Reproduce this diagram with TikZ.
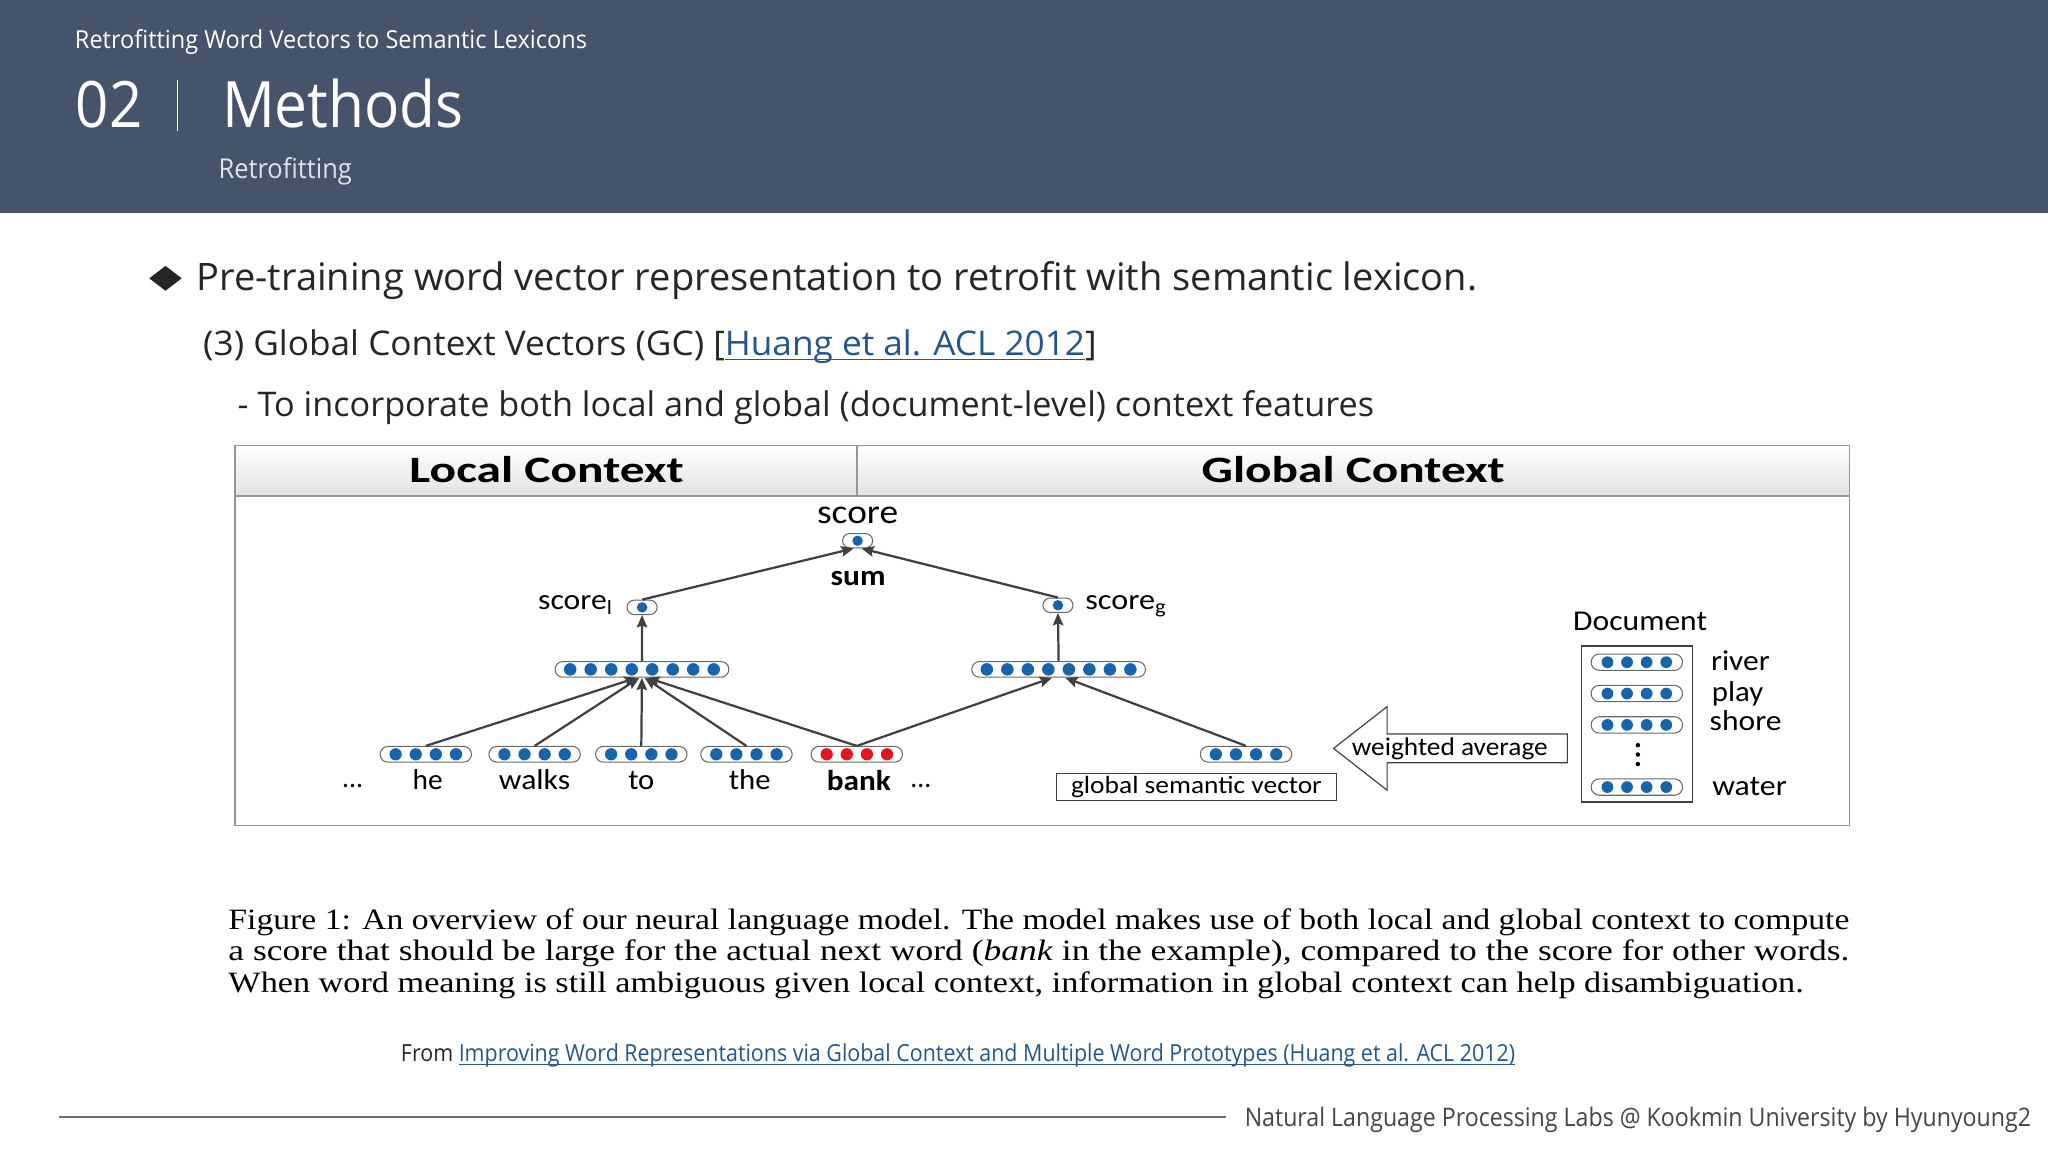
\documentclass[tikz,border=0pt]{standalone}
\usepackage{fontspec}
\usepackage{graphicx}
\usetikzlibrary{arrows.meta,calc}
\newfontfamily\slidefont{Open Sans}
\newfontfamily\figfont{Carlito}
\newfontfamily\capfont{Liberation Serif}
\definecolor{hdr}{RGB}{70,84,107}
\definecolor{subw}{RGB}{222,226,233}
\definecolor{bodytxt}{RGB}{38,38,38}
\definecolor{linkblue}{RGB}{36,86,140}
\definecolor{dotblue}{RGB}{22,100,172}
\definecolor{dotred}{RGB}{226,22,28}
\definecolor{arrgray}{RGB}{64,64,64}
\definecolor{capgray}{RGB}{105,105,105}
\definecolor{figborder}{RGB}{150,150,150}
\definecolor{foottxt}{RGB}{70,70,70}
\newlength\fitlen
\newcommand\fitw[2]{\settowidth{\fitlen}{#2}\pgfmathsetmacro\fitr{#1/\fitlen}\scalebox{\fitr}[1]{#2}}
\newsavebox\lnkbox
\newcommand\lnk[3]{\sbox\lnkbox{\color{linkblue}#3}{\color{linkblue}\rlap{\rule[-#1pt]{\wd\lnkbox}{#2pt}}}\usebox\lnkbox}
\newcommand\capdots[5]{% node, count, spacing, colour, radius
  \pgfmathsetmacro\halfn{(#2-1)/2}
  \foreach \k in {1,...,#2}{\fill[#4] ($(#1)+({(\k-1-\halfn)*#3},0)$) circle[radius=#5pt];}}
\begin{document}
\begin{tikzpicture}[x=1pt,y=-1pt,
  tx/.style={inner sep=0pt,outer sep=0pt},
  arr/.style={draw=arrgray,line width=1.7pt,-{Stealth[length=9.5pt,width=8pt,inset=1.5pt]}},
  capbase/.style={draw=capgray,line width=0.8pt,fill=white,rectangle,inner sep=0pt},
  cap4/.style={capbase,rounded corners=6pt,minimum width=70pt,minimum height=12pt},
  cap8/.style={capbase,rounded corners=6pt,minimum width=133pt,minimum height=12pt},
  cap1/.style={capbase,rounded corners=5.5pt,minimum width=23pt,minimum height=11pt},
  capd/.style={capbase,rounded corners=6.25pt,minimum width=70pt,minimum height=12.5pt},
  fig/.style={tx,font=\figfont\fontsize{22}{24}\selectfont,text=black},
  figb/.style={tx,font=\figfont\bfseries\fontsize{22}{24}\selectfont,text=black},
  capt/.style={tx,anchor=base west,font=\capfont\fontsize{22.6}{24}\selectfont,text=black}
]
\useasboundingbox (0,0) rectangle (1568,882);
\fill[white] (0,0) rectangle (1568,882);
% header band
\fill[hdr] (0,0) rectangle (1568,163);
\node[tx,anchor=base west,font=\slidefont\fontsize{19}{22}\selectfont,text=white] (h1) at (57.4,37) {\fitw{392}{Retrofitting Word Vectors to Semantic Lexicons}};
\node[tx,anchor=base west,font=\slidefont\fontsize{49}{52}\selectfont,text=white] (h02) at (58,98) {\fitw{51}{02}};
\draw[white,line width=1.3pt] (136,61) -- (136,100);
\node[tx,anchor=base west,font=\slidefont\fontsize{49}{52}\selectfont,text=white] (hm) at (170,98) {\fitw{185}{Methods}};
\node[tx,anchor=base west,font=\slidefont\fontsize{21}{24}\selectfont,text=subw] (hs) at (167.4,137) {\fitw{102}{Retrofitting}};
% body text
\fill[bodytxt] (114.3,213.1) -- (126.7,203.6) -- (139.1,213.1) -- (126.7,222.6) -- cycle;
\node[tx,anchor=base west,font=\slidefont\fontsize{29}{32}\selectfont,text=bodytxt] (b1) at (150.6,222.6) {\fitw{980.5}{Pre-training word vector representation to retrofit with semantic lexicon.}};
\node[tx,anchor=base west,font=\slidefont\fontsize{26}{30}\selectfont,text=bodytxt] (b2) at (155.6,272) {\fitw{684}{(3) Global Context Vectors (GC) [\lnk{4}{1.3}{Huang et al. ACL 2012}]}};
\node[tx,anchor=base west,font=\slidefont\fontsize{26}{30}\selectfont,text=bodytxt] (b3) at (182,319) {\fitw{870}{- To incorporate both local and global (document-level) context features}};
% figure frame
\shade[top color=white,bottom color={rgb,255:red,226;green,226;blue,226}] (180,341) rectangle (1416,380);
\draw[figborder,line width=1.3pt] (180,341) rectangle (1416,632);
\draw[figborder,line width=1.3pt] (180,380) -- (1416,380);
\draw[figborder,line width=1.3pt] (656,341) -- (656,380);
\node[tx,anchor=base,font=\figfont\bfseries\fontsize{28.5}{30}\selectfont] (lc) at (418.5,369.3) {\fitw{210}{Local Context}};
\node[tx,anchor=base,font=\figfont\bfseries\fontsize{28.5}{30}\selectfont] (gc) at (1036,369.3) {\fitw{232}{Global Context}};
% capsules
\node[cap1] (top) at (656.6,414) {};
\node[cap1] (scl) at (491.6,465) {};
\node[cap1] (scg) at (810,463.4) {};
\node[cap8] (hl) at (491.5,512.5) {};
\node[cap8] (hg) at (810.5,512.5) {};
\node[cap4] (he) at (326,577.5) {};
\node[cap4] (walks) at (409.3,577.5) {};
\node[cap4] (to) at (491,577.5) {};
\node[cap4] (the) at (571.5,577.5) {};
\node[cap4] (bank) at (656,577.5) {};
\node[cap4] (gsv) at (954,577.5) {};
\node[capd] (d1) at (1253.2,507) {};
\node[capd] (d2) at (1253.2,531) {};
\node[capd] (d3) at (1253.2,555) {};
\node[capd] (d4) at (1253.2,602.6) {};
\capdots{top}{1}{0}{dotblue}{4}
\capdots{scl}{1}{0}{dotblue}{4}
\capdots{scg}{1}{0}{dotblue}{4}
\capdots{hl}{8}{15.7}{dotblue}{4.8}
\capdots{hg}{8}{15.7}{dotblue}{4.8}
\capdots{he}{4}{15.4}{dotblue}{4.7}
\capdots{walks}{4}{15.4}{dotblue}{4.7}
\capdots{to}{4}{15.4}{dotblue}{4.7}
\capdots{the}{4}{15.4}{dotblue}{4.7}
\capdots{bank}{4}{15.4}{dotred}{4.7}
\capdots{gsv}{4}{15.4}{dotblue}{4.7}
\capdots{d1}{4}{15}{dotblue}{4.5}
\capdots{d2}{4}{15}{dotblue}{4.5}
\capdots{d3}{4}{15}{dotblue}{4.5}
\capdots{d4}{4}{15}{dotblue}{4.5}
% arrows
\draw[arr] (scl.north) -- ([xshift=-3pt]top.south);
\draw[arr] (scg.north) -- ([xshift=3pt]top.south);
\draw[arr] (hl.north) -- (scl.south);
\draw[arr] (hg.north) -- (scg.south);
\draw[arr] (he.north) -- ([xshift=-4pt]hl.south);
\draw[arr] (walks.north) -- ([xshift=-2pt]hl.south);
\draw[arr] (to.north) -- (hl.south);
\draw[arr] (the.north) -- ([xshift=2pt]hl.south);
\draw[arr] (bank.north) -- ([xshift=4pt]hl.south);
\draw[arr] (bank.north) -- ([xshift=-5pt]hg.south);
\draw[arr] (gsv.north) -- ([xshift=5pt]hg.south);
% labels
\node[tx,anchor=base,font=\figfont\fontsize{26}{28}\selectfont] (lscore) at (656.6,401) {\fitw{62}{score}};
\node[tx,anchor=base,font=\figfont\bfseries\fontsize{22}{24}\selectfont] (lsum) at (657,448.4) {\fitw{42}{sum}};
\node[fig,anchor=base west] (lscl) at (412,467) {\fitw{57}{score\textsubscript{l}}};
\node[fig,anchor=base west] (lscg) at (831,466.5) {\fitw{62}{score\textsubscript{g}}};
\node[fig,anchor=base west] (ldoc) at (1204.5,482.5) {\fitw{102.5}{Document}};
\node[fig,anchor=base west] (ldl) at (262,603) {\fitw{16}{...}};
\node[fig,anchor=base west] (lhe) at (316,604.5) {\fitw{23}{he}};
\node[fig,anchor=base west] (lwalks) at (382,604.5) {\fitw{54.6}{walks}};
\node[fig,anchor=base west] (lto) at (481,604.5) {\fitw{20}{to}};
\node[fig,anchor=base west] (lthe) at (558,604.5) {\fitw{32}{the}};
\node[figb,anchor=base west] (lbank) at (633,605.5) {\fitw{49}{bank}};
\node[fig,anchor=base west] (ldr) at (697,603) {\fitw{16}{...}};
\node[draw=arrgray,line width=0.9pt,minimum width=214pt,minimum height=21pt,inner sep=0pt,font=\figfont\fontsize{19}{21}\selectfont] (gsvbox) at (916,602.5) {\fitw{192}{global semantic vector}};
% weighted average arrow
\draw[draw=arrgray,line width=0.9pt,fill=white,line join=miter] (1021,573) -- (1062,541) -- (1062,562) -- (1200,562) -- (1200,584) -- (1062,584) -- (1062,605) -- cycle;
\node[tx,anchor=base,font=\figfont\fontsize{19.5}{21}\selectfont] (lwa) at (1110,578.5) {\fitw{150}{weighted average}};
% document box
\draw[draw=arrgray,line width=0.9pt] (1211,494.6) rectangle (1296,614);
\foreach \yy in {570.5,577.7,585}{\fill[black] (1254,\yy) circle[radius=1.7pt];}
\node[fig,anchor=base west] (lriver) at (1310,513.5) {\fitw{45}{river}};
\node[fig,anchor=base west] (lplay) at (1310.6,537) {\fitw{39.4}{play}};
\node[fig,anchor=base west] (lshore) at (1309,559.5) {\fitw{55}{shore}};
\node[fig,anchor=base west] (lwater) at (1311,609) {\fitw{57}{water}};
% caption
\node[capt] (c1) at (174.9,711.4) {\fitw{1241}{Figure 1: An overview of our neural language model. The model makes use of both local and global context to compute}};
\node[capt] (c2) at (174.9,735.6) {\fitw{1241}{a score that should be large for the actual next word (\textit{bank} in the example), compared to the score for other words.}};
\node[capt] (c3) at (174.9,760) {\fitw{1206}{When word meaning is still ambiguous given local context, information in global context can help disambiguation.}};
\node[tx,anchor=base west,font=\slidefont\fontsize{18}{20}\selectfont,text=bodytxt] (src) at (307,812.5) {\fitw{853}{From \lnk{2.8}{1}{Improving Word Representations via Global Context and Multiple Word Prototypes (Huang et al. ACL 2012)}}};
% footer
\draw[draw={rgb,255:red,110;green,110;blue,110},line width=1.3pt] (45,855) -- (939,855);
\node[tx,anchor=base west,font=\slidefont\fontsize{19.6}{22}\selectfont,text=foottxt] (foot) at (953,862.7) {\fitw{602}{Natural Language Processing Labs @ Kookmin University by Hyunyoung2}};
\end{tikzpicture}
\end{document}
